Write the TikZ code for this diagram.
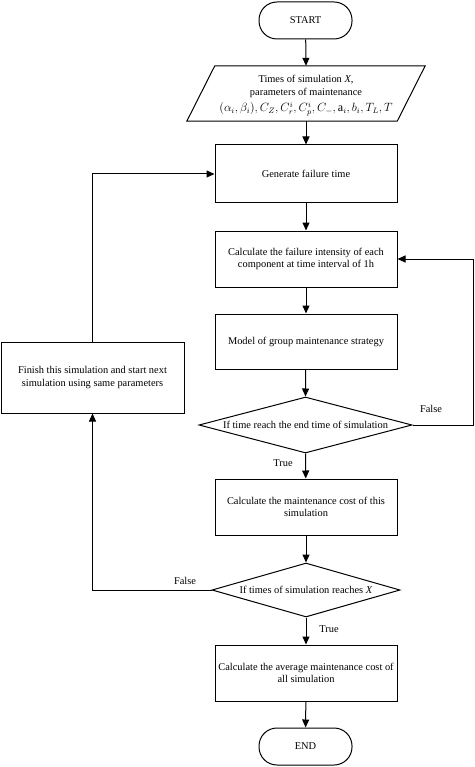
\documentclass[tikz,border=0pt]{standalone}
\usepackage{fontspec}
\setmainfont{Liberation Serif}
\usetikzlibrary{shapes.geometric,arrows.meta}
\begin{document}
\begin{tikzpicture}[x=1pt,y=-1pt,
  every node/.style={font=\fontsize{10.4}{12.5}\selectfont, inner sep=0pt},
  box/.style={draw, line width=1pt, minimum width=182pt, minimum height=56pt, align=center},
  term/.style={draw, line width=1pt, rounded corners=18pt, minimum width=93pt, minimum height=37pt},
  decision/.style={draw, diamond, line width=1pt},
  arr/.style={line width=1pt, -{Triangle[length=8pt,width=7pt]}},
  lbl/.style={font=\fontsize{10.4}{12.5}\selectfont}
]
\useasboundingbox (0,0) rectangle (474,767);

\node[term] (start) at (305.5,20.5) {START};
\node[minimum width=210pt, minimum height=55pt] (para) at (306,93.5) {};
\node[align=center] (paratext) at (306,96)
  {Times of simulation \textit{X},\\ parameters of maintenance\\[4pt]
   {\fontsize{12}{14}\selectfont$(\alpha_i,\beta_i),C_Z,C_r^i,C_p^i,C_-,\mathrm{a}_i,b_i,T_L,T$}};
\draw[line width=1pt] ([xshift=14pt]para.north west) -- ([xshift=14pt]para.north east)
  -- ([xshift=-14pt]para.south east) -- ([xshift=-14pt]para.south west) -- cycle;

\node[box, minimum height=58pt] (gen) at (306,174) {Generate failure time};
\node[box] (calc) at (306,259) {Calculate the failure intensity of each\\ component at time interval of 1h};
\node[box, minimum height=55pt] (model) at (306,341.5) {Model of group maintenance strategy};
\node[decision, minimum width=213pt, minimum height=56pt] (d1) at (305.5,425) {};
\node (d1t) at (d1.center) {If time reach the end time of simulation};
\node[box] (cost) at (306,507) {Calculate the maintenance cost of this\\ simulation};
\node[decision, minimum width=188pt, minimum height=54pt] (d2) at (306,590) {};
\node (d2t) at (d2.center) {If times of simulation reaches \textit{X}};
\node[box] (avg) at (306,673) {Calculate the average maintenance cost of\\ all simulation};
\node[term] (end) at (305.5,746.5) {END};
\node[box, minimum width=183pt, minimum height=71pt] (finish) at (92.5,377.5)
  {Finish this simulation and start next\\ simulation using same parameters};

\coordinate (r1) at (473,425);

\draw[arr] (start) -- (para.north);
\draw[arr] (para.south) -- (gen);
\draw[arr] (gen) -- (calc);
\draw[arr] (calc) -- (model);
\draw[arr] (model) -- (d1.north);
\draw[arr] (d1.east) -- (r1) |- (calc.east);
\draw[arr] (d1.south) -- (cost);
\draw[arr] (cost) -- (d2.north);
\draw[arr] (d2.south) -- (avg);
\draw[arr] (avg) -- (end);
\draw[arr] (d2.west) -| (finish.south);
\draw[arr] (finish.north) |- (gen.west);

\node[lbl] (f1) at (431,409) {False};
\node[lbl] (t1) at (283,463) {True};
\node[lbl] (f2) at (185,581) {False};
\node[lbl] (t2) at (329,629) {True};
\end{tikzpicture}
\end{document}
